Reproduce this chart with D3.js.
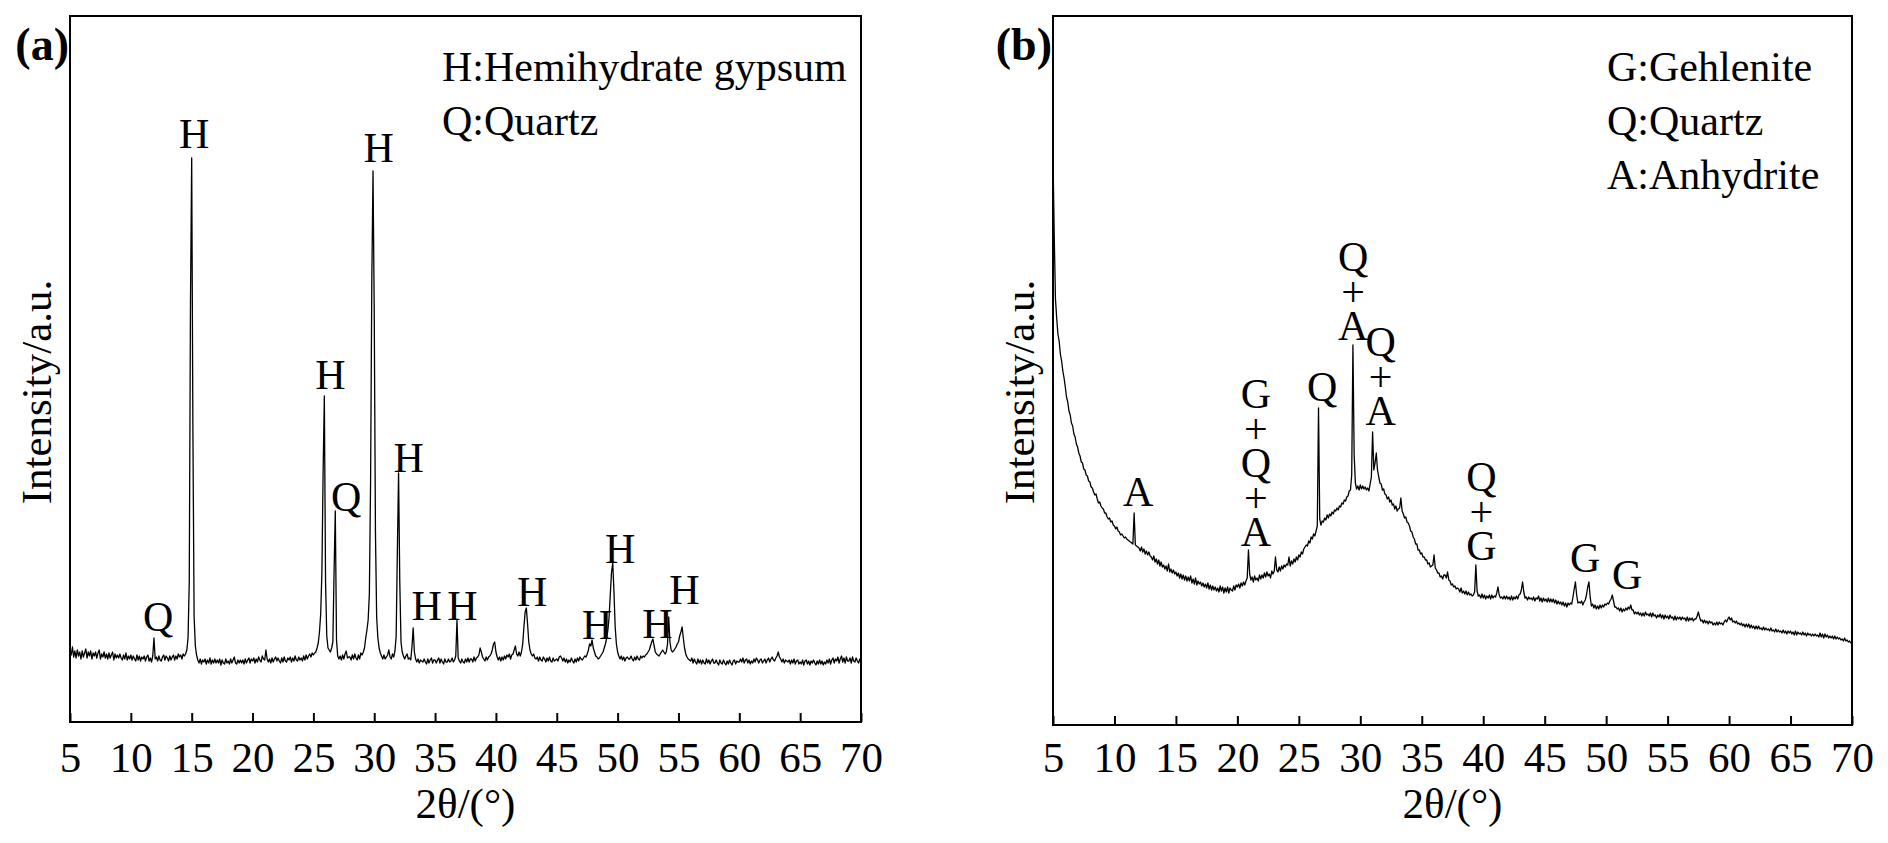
<!DOCTYPE html>
<html><head><meta charset="utf-8">
<script src="https://cdn.jsdelivr.net/npm/d3@7"></script>
<style>
body{margin:0;background:#fff;}
svg{display:block;}
text{font-family:"Liberation Serif","Times New Roman",serif;fill:#000;}
</style>
</head><body>
<svg id="chart" width="1888" height="843"></svg>
<script>
// ---------- data ----------
const xTicks = [5,10,15,20,25,30,35,40,45,50,55,60,65,70];
const xTitle = "2θ/(°)";
const yTitle = "Intensity/a.u.";
const scanStart = 5;      // 2θ of first point
const scanStep = 0.1;     // scan step (°)

// (a) intensity, one row per degree (x.0 ... x.9)
const intensityA = [
 72,67,75,65,71,64,72,66,70,63,
 71,65,69,73,64,70,66,71,63,69,
 66,70,64,69,72,63,68,65,70,64,
 68,63,69,64,67,70,62,68,64,67,
 64,68,64,62,67,63,69,62,66,63,
 67,62,66,63,61,67,62,66,61,65,
 63,66,61,65,67,61,64,60,66,84,
 63,65,61,66,62,61,65,67,62,66,
 64,61,66,62,65,67,62,66,63,68,
 65,67,63,68,66,68,72,84,140,420,
 564,290,105,76,67,62,59,63,58,62,
 60,63,58,62,59,64,58,62,59,63,
 59,62,59,63,57,62,59,58,63,59,
 61,58,63,59,62,65,59,58,62,59,
 62,59,62,58,63,59,62,64,59,63,
 61,64,59,63,60,65,62,60,66,63,
 62,72,63,60,63,59,64,60,63,65,
 61,64,61,59,64,60,65,61,60,64,
 62,65,60,64,61,66,62,61,65,62,
 64,61,66,62,67,63,66,68,65,69,
 67,69,70,74,79,90,108,150,250,326,
 140,86,74,72,70,74,80,150,211,82,
 66,63,66,62,67,63,68,71,64,65,
 65,62,67,63,68,64,62,67,63,69,
 67,70,74,84,92,102,128,240,440,551,
 410,190,105,84,74,69,66,63,67,63,
 65,67,72,65,63,68,65,71,85,170,
 249,140,80,70,66,63,66,68,63,64,
 62,75,94,70,63,60,63,59,62,61,
 60,63,60,58,63,59,62,64,59,62,
 62,59,62,64,59,63,60,58,63,60,
 60,63,60,61,64,60,62,66,102,64,
 61,59,63,60,59,63,60,64,60,63,
 63,60,65,61,64,65,67,74,70,65,
 63,61,65,62,65,66,68,72,78,80,
 70,65,62,65,61,65,62,66,63,67,
 65,68,63,67,68,72,76,68,66,70,
 66,70,78,95,110,114,98,80,72,68,
 66,68,64,63,65,61,65,62,61,65,
 63,60,64,61,65,61,60,64,61,62,
 63,61,65,66,64,61,64,60,63,59,
 62,60,64,61,59,63,60,64,61,65,
 63,62,64,66,65,68,72,78,76,82,
 74,70,66,65,63,64,66,68,70,74,
 78,84,92,105,128,150,159,130,95,78,
 70,66,63,66,62,65,61,64,65,63,
 63,66,63,61,65,62,66,63,62,66,
 64,66,65,67,68,70,72,76,80,83,
 76,70,68,67,66,68,70,72,70,68,
 70,78,105,80,72,70,71,73,75,78,
 80,86,90,95,84,74,68,65,63,62,
 61,64,59,63,60,58,63,59,62,58,
 62,59,58,63,59,62,58,61,63,59,
 59,62,59,57,62,59,58,62,59,57,
 61,58,62,59,57,61,62,58,61,60,
 60,63,60,64,59,62,63,59,62,58,
 61,59,63,60,64,62,59,62,63,59,
 61,63,59,62,64,60,63,65,62,61,
 64,66,70,65,63,60,63,59,62,61,
 60,62,58,62,59,63,58,61,62,58,
 60,58,62,57,61,62,58,61,57,61,
 59,62,59,57,61,58,62,58,61,57,
 60,58,62,59,63,58,62,64,59,63,
 61,65,59,63,66,60,64,59,65,61,
 61,64,59,65,61,60,64,61,59,63,
 61
];

// (b) intensity, one row per degree (x.0 ... x.9)
const intensityB = [
 569,490,426,407,391,384,371,364,354,347,
 338,328,323,314,310,302,299,291,288,281,
 278,272,269,263,262,256,255,250,249,244,
 243,238,237,233,230,231,226,222,223,219,
 217,216,212,212,208,206,207,203,204,200,
 199,196,198,194,193,190,191,189,187,188,
 186,185,184,183,182,181,212,180,179,178,
 177,174,178,173,176,171,174,170,173,169,
 168,165,169,163,166,161,165,159,163,158,
 160,156,159,154,161,153,156,152,155,151,
 153,149,152,147,151,146,150,145,149,144,
 148,144,149,142,146,141,147,140,144,141,
 143,139,142,138,141,137,142,136,140,135,
 139,135,138,134,137,133,139,134,138,132,
 137,133,138,132,137,135,134,139,135,140,
 138,141,137,142,139,143,140,144,147,175,
 151,145,148,143,149,145,147,144,150,146,
 150,147,152,148,153,149,151,147,154,151,
 154,168,155,153,158,154,159,156,160,158,
 161,160,168,159,164,161,166,163,168,165,
 170,168,173,171,176,178,180,179,184,182,
 188,186,191,189,194,199,317,206,200,204,
 203,207,205,210,207,211,209,213,211,215,
 214,217,215,219,218,222,221,225,224,228,
 229,234,235,250,380,270,242,236,239,235,
 240,236,239,236,238,235,237,234,241,248,
 293,255,262,272,255,248,242,241,235,236,
 231,230,226,228,223,225,220,221,216,219,
 214,216,217,227,214,211,207,208,203,202,
 199,194,193,188,186,181,181,175,175,171,
 172,168,168,165,165,161,162,158,159,160,
 170,157,155,152,152,148,149,146,150,150,
 147,153,145,144,140,141,138,139,136,137,
 136,133,137,132,134,131,134,130,133,130,
 131,129,130,133,160,134,129,130,127,131,
 127,130,126,129,127,130,126,130,127,129,
 128,132,138,130,127,128,126,129,126,129,
 126,128,125,129,125,128,126,129,126,130,
 131,135,143,133,127,128,125,128,126,127,
 125,128,124,127,126,129,124,127,123,127,
 124,126,123,127,123,126,123,126,122,125,
 121,124,121,123,120,123,119,122,118,122,
 120,122,121,128,136,143,130,122,123,122,
 124,120,123,125,130,138,143,128,119,121,
 117,120,116,119,116,120,117,120,118,121,
 120,122,121,124,126,130,124,118,118,116,
 117,114,117,113,116,114,117,115,118,116,
 120,115,115,111,113,111,113,110,112,109,
 112,109,113,110,111,109,112,108,112,109,
 110,107,110,108,111,107,110,106,110,107,
 109,106,110,107,108,105,109,105,108,106,
 108,105,108,106,107,104,108,104,107,105,
 107,104,106,106,109,113,108,104,105,102,
 105,102,104,101,104,102,103,100,102,100,
 103,100,103,101,102,100,103,105,103,106,
 108,105,107,103,104,102,104,101,102,100,
 102,99,101,98,101,98,101,97,100,97,
 99,96,99,96,99,96,97,95,98,95,
 97,95,96,94,97,94,95,93,96,93,
 95,93,94,92,95,92,94,91,94,92,
 94,91,93,90,94,90,93,91,92,90,
 93,90,92,89,92,90,91,89,91,89,
 91,89,90,88,92,88,91,87,91,88,
 90,87,89,87,89,86,89,86,88,86,
 87,85,86,84,87,84,85,83,84,82,
 83
];

const legendA = ["H:Hemihydrate gypsum", "Q:Quartz"];
const legendB = ["G:Gehlenite", "Q:Quartz", "A:Anhydrite"];

// phase labels: 2θ position and intensity level of the (top) baseline
const peakLabelsA = [
 {lines:["Q"], pos:12.25, level:91},
 {lines:["H"], pos:15.2,  level:574},
 {lines:["H"], pos:26.4,  level:333},
 {lines:["Q"], pos:27.7,  level:211},
 {lines:["H"], pos:30.37, level:560},
 {lines:["H"], pos:32.84, level:250},
 {lines:["H"], pos:34.3,  level:102},
 {lines:["H"], pos:37.25, level:102},
 {lines:["H"], pos:42.97, level:116},
 {lines:["H"], pos:48.33, level:83},
 {lines:["H"], pos:50.22, level:159},
 {lines:["H"], pos:53.27, level:84},
 {lines:["H"], pos:55.5,  level:118}
];
const peakLabelsB = [
 {lines:["A"], pos:11.92, level:219},
 {lines:["G","+","Q","+","A"], pos:21.5, level:317},
 {lines:["Q"], pos:26.9, level:324},
 {lines:["Q","+","A"], pos:29.41, level:454},
 {lines:["Q","+","A"], pos:31.65, level:369},
 {lines:["Q","+","G"], pos:39.85, level:234},
 {lines:["G"], pos:48.3, level:153},
 {lines:["G"], pos:51.7, level:136}
];

// ---------- drawing ----------
const svg = d3.select("#chart");
svg.append("rect").attr("width",1888).attr("height",843).attr("fill","#fff");

function drawPanel(cfg){
  const x = d3.scaleLinear().domain([5,70]).range([cfg.left, cfg.right]);
  const y = d3.scaleLinear().domain([0, cfg.yMax]).range([cfg.bottom, cfg.top]);
  const g = svg.append("g");

  // trace
  const line = d3.line()
    .x((d,i)=>x(scanStart + i*scanStep))
    .y(d=>y(d));
  g.append("path").datum(cfg.data)
    .attr("d", line).attr("fill","none")
    .attr("stroke","#000").attr("stroke-width",1.3)
    .attr("stroke-linejoin","round");

  // bottom axis with inward ticks
  const ax = g.append("g").attr("transform",`translate(0,${cfg.bottom})`)
    .call(d3.axisBottom(x).tickValues(xTicks).tickSize(-9).tickFormat(d3.format("d")));
  ax.select(".domain").remove();
  ax.selectAll(".tick line").attr("stroke","#000").attr("stroke-width",2);
  ax.selectAll(".tick text")
    .attr("y", cfg.labelBase - cfg.bottom).attr("dy",0)
    .attr("font-size",43).attr("fill","#000")
    .style("font-family",'"Liberation Serif","Times New Roman",serif');

  // frame
  g.append("rect").attr("x",cfg.left).attr("y",cfg.top)
    .attr("width",cfg.right-cfg.left).attr("height",cfg.bottom-cfg.top)
    .attr("fill","none").attr("stroke","#000").attr("stroke-width",2);

  // axis titles
  g.append("text").attr("x",(cfg.left+cfg.right)/2).attr("y",818)
    .attr("text-anchor","middle").attr("font-size",43).text(xTitle);
  g.append("text")
    .attr("transform",`translate(${cfg.left-19},392) rotate(-90)`)
    .attr("text-anchor","middle").attr("font-size",43).text(yTitle);

  // panel letter
  g.append("text").attr("x",cfg.left-1).attr("y",60)
    .attr("text-anchor","end").attr("font-size",46).attr("font-weight","bold")
    .text(cfg.letter);

  // legend
  g.selectAll("text.leg").data(cfg.legend).enter().append("text")
    .attr("class","leg")
    .attr("x",cfg.legendX).attr("y",(d,i)=>81 + i*54)
    .attr("font-size",42).text(d=>d);

  // peak labels (stacked phase labels use tight line spacing like the original)
  cfg.peaks.forEach(p=>{
    p.lines.forEach((s,i)=>{
      g.append("text").attr("text-anchor","middle").attr("font-size",42)
        .attr("x",x(p.pos)).attr("y",y(p.level)+i*34.5).text(s);
    });
  });
}

drawPanel({left:70, right:861, top:16, bottom:722, yMax:706, labelBase:772,
  data:intensityA, letter:"(a)", legend:legendA, legendX:442, peaks:peakLabelsA});
drawPanel({left:1053, right:1852, top:16, bottom:725, yMax:709, labelBase:772,
  data:intensityB, letter:"(b)", legend:legendB, legendX:1607, peaks:peakLabelsB});
</script>
</body></html>
